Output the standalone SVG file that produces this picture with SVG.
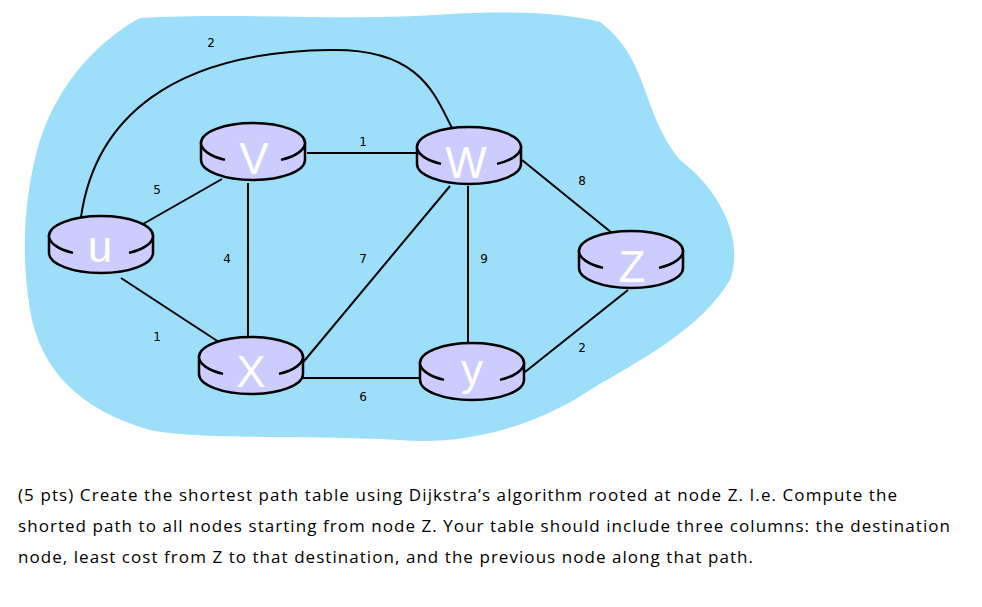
<svg xmlns="http://www.w3.org/2000/svg" width="982" height="607" viewBox="0 0 982 607">
<style>
.b{fill:#ccccff;stroke:#000;stroke-width:2.5}
.f{fill:#ccccff;stroke:none}
.s{fill:none;stroke:#000;stroke-width:2.5}
.r text{font-family:"Liberation Sans",Arial,sans-serif;font-size:44px;fill:#fff;text-anchor:middle}
.e line,.e path{stroke:#000;stroke-width:2;fill:none}
.w{font-family:"DejaVu Sans",sans-serif;font-size:12px;fill:#000;text-anchor:middle}
.p{font-family:"Open Sans","Liberation Sans",sans-serif;font-size:17px;fill:#000}
</style>
<defs>
<g id="rt">
<path class="b" d="M-52,20 V37 A52,20 0 0 0 52,37 V20 Z"/>
<path class="f" d="M-52,20 A52,20 0 0 1 52,20 A52,20 0 0 1 -52,20 Z"/>
<path class="s" d="M-52,20 A52,20 0 0 1 52,20 M-52,20 A52,20 0 0 0 -28,36.9 M28,36.9 A52,20 0 0 0 52,20"/>
</g>
</defs>
<rect width="982" height="607" fill="#fff"/>
<path d="M140,18 C250,12 350,22 450,14 C520,10 570,14 600,22 C650,60 640,110 680,160 C720,190 745,240 730,280 C700,330 640,360 590,390 C530,430 460,445 400,440 C300,435 200,440 150,430 C80,410 40,370 30,310 C20,250 25,190 40,140 C60,80 100,40 140,18 Z" fill="#9ddff9"/>
<g class="e">
<path d="M81,217 C95,120 170,52 330,50 C420,48 435,95 452,128"/>
<line x1="307" y1="153" x2="417" y2="153"/>
<line x1="122" y1="236" x2="222" y2="179"/>
<line x1="248" y1="183" x2="248" y2="338"/>
<line x1="121" y1="278" x2="225" y2="346"/>
<line x1="300" y1="366" x2="450" y2="186"/>
<line x1="468" y1="186" x2="468" y2="345"/>
<line x1="303" y1="378" x2="420" y2="378"/>
<line x1="522" y1="160" x2="612" y2="233"/>
<line x1="628" y1="290" x2="525" y2="372"/>
</g>
<g class="w">
<text x="211" y="47">2</text>
<text x="363" y="146">1</text>
<text x="157" y="194">5</text>
<text x="582" y="185">8</text>
<text x="227" y="263">4</text>
<text x="363" y="263">7</text>
<text x="484" y="263">9</text>
<text x="157" y="341">1</text>
<text x="582" y="352">2</text>
<text x="363" y="401">6</text>
</g>
<g id="v" class="r"><use href="#rt" x="253" y="123"/><text x="254" y="174">V</text></g>
<g id="w" class="r"><use href="#rt" x="469" y="127"/><text x="466" y="178">W</text></g>
<g id="u" class="r"><use href="#rt" x="101" y="216"/><text x="100" y="262">u</text></g>
<g id="z" class="r"><use href="#rt" x="631" y="231"/><text x="632" y="282">Z</text></g>
<g id="x" class="r"><use href="#rt" x="251" y="337"/><text x="251" y="387">X</text></g>
<g id="y" class="r"><use href="#rt" x="472" y="343"/><text x="472" y="385">y</text></g>
<text class="p" x="18" y="501" textLength="879">(5 pts) Create the shortest path table using Dijkstra’s algorithm rooted at node Z. I.e. Compute the</text>
<text class="p" x="18" y="532" textLength="932">shorted path to all nodes starting from node Z. Your table should include three columns: the destination</text>
<text class="p" x="18" y="563" textLength="735">node, least cost from Z to that destination, and the previous node along that path.</text>
</svg>
